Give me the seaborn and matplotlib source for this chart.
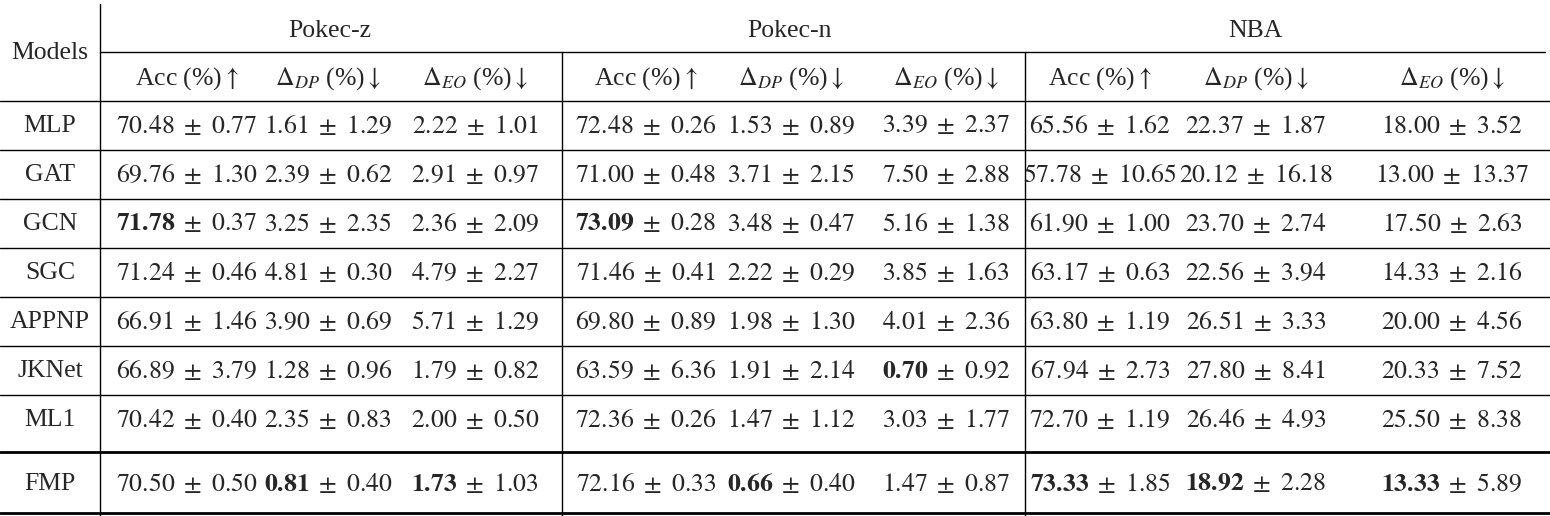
import matplotlib
matplotlib.use("Agg")
import matplotlib.pyplot as plt
import seaborn as sns

sns.set_theme(style="white")
plt.rcParams['font.family'] = ['Liberation Serif', 'DejaVu Serif']
plt.rcParams['mathtext.fontset'] = 'stix'

models = ["MLP", "GAT", "GCN", "SGC", "APPNP", "JKNet", "ML1", "FMP"]
datasets = ["Pokec-z", "Pokec-n", "NBA"]
metrics = [r"Acc (%)$\uparrow$", r"$\Delta_{DP}$ (%)$\downarrow$", r"$\Delta_{EO}$ (%)$\downarrow$"]

means = [
    [70.48, 1.61, 2.22, 72.48, 1.53, 3.39, 65.56, 22.37, 18.00],
    [69.76, 2.39, 2.91, 71.00, 3.71, 7.50, 57.78, 20.12, 13.00],
    [71.78, 3.25, 2.36, 73.09, 3.48, 5.16, 61.90, 23.70, 17.50],
    [71.24, 4.81, 4.79, 71.46, 2.22, 3.85, 63.17, 22.56, 14.33],
    [66.91, 3.90, 5.71, 69.80, 1.98, 4.01, 63.80, 26.51, 20.00],
    [66.89, 1.28, 1.79, 63.59, 1.91, 0.70, 67.94, 27.80, 20.33],
    [70.42, 2.35, 2.00, 72.36, 1.47, 3.03, 72.70, 26.46, 25.50],
    [70.50, 0.81, 1.73, 72.16, 0.66, 1.47, 73.33, 18.92, 13.33],
]
stds = [
    [0.77, 1.29, 1.01, 0.26, 0.89, 2.37, 1.62, 1.87, 3.52],
    [1.30, 0.62, 0.97, 0.48, 2.15, 2.88, 10.65, 16.18, 13.37],
    [0.37, 2.35, 2.09, 0.28, 0.47, 1.38, 1.00, 2.74, 2.63],
    [0.46, 0.30, 2.27, 0.41, 0.29, 1.63, 0.63, 3.94, 2.16],
    [1.46, 0.69, 1.29, 0.89, 1.30, 2.36, 1.19, 3.33, 4.56],
    [3.79, 0.96, 0.82, 6.36, 2.14, 0.92, 2.73, 8.41, 7.52],
    [0.40, 0.83, 0.50, 0.26, 1.12, 1.77, 1.19, 4.93, 8.38],
    [0.50, 0.40, 1.03, 0.33, 0.40, 0.87, 1.85, 2.28, 5.89],
]
bold = [(2, 0), (2, 3), (5, 5), (7, 1), (7, 2), (7, 4), (7, 6), (7, 7), (7, 8)]

W, H = 1550, 516
fig = plt.figure(figsize=(15.5, 5.16), dpi=100)
ax = fig.add_axes([0, 0, 1, 1])
ax.set_xlim(0, W)
ax.set_ylim(H, 0)
ax.axis("off")

fs = 18.5
col_x = [187, 328, 475, 646, 791, 946, 1100, 1256, 1452]
grp_x = [330, 790, 1255]
row_y = [126, 175, 224, 273, 322, 371, 420, 484]
vlines = [562, 1025]

ax.text(50, 53, "Models", ha="center", va="center", fontsize=fs)
for g, name in enumerate(datasets):
    ax.text(grp_x[g], 31, name, ha="center", va="center", fontsize=fs)
for j in range(9):
    ax.text(col_x[j], 79, metrics[j % 3], ha="center", va="center", fontsize=fs)

for i, m in enumerate(models):
    ax.text(50, row_y[i], m, ha="center", va="center", fontsize=fs)
    for j in range(9):
        mv = f"{means[i][j]:.2f}"
        if (i, j) in bold:
            mv = r"\mathbf{" + mv + "}"
        s = f"${mv}\\ \\pm\\ {stds[i][j]:.2f}$"
        ax.text(col_x[j], row_y[i], s, ha="center", va="center", fontsize=fs)

ax.plot([100, 100], [4, H], color="black", lw=1.0)
for vx in vlines:
    ax.plot([vx, vx], [52, H], color="black", lw=1.0)
ax.plot([100, W - 5], [52, 52], color="black", lw=1.0)
ax.plot([0, W], [101, 101], color="black", lw=1.0)
for k in range(1, 7):
    y = 101 + 49 * k
    ax.plot([0, W], [y, y], color="black", lw=1.0)
ax.plot([0, W], [452, 452], color="black", lw=2.0)
ax.plot([0, W], [513, 513], color="black", lw=2.0)

fig.savefig("out.png", dpi=100)
